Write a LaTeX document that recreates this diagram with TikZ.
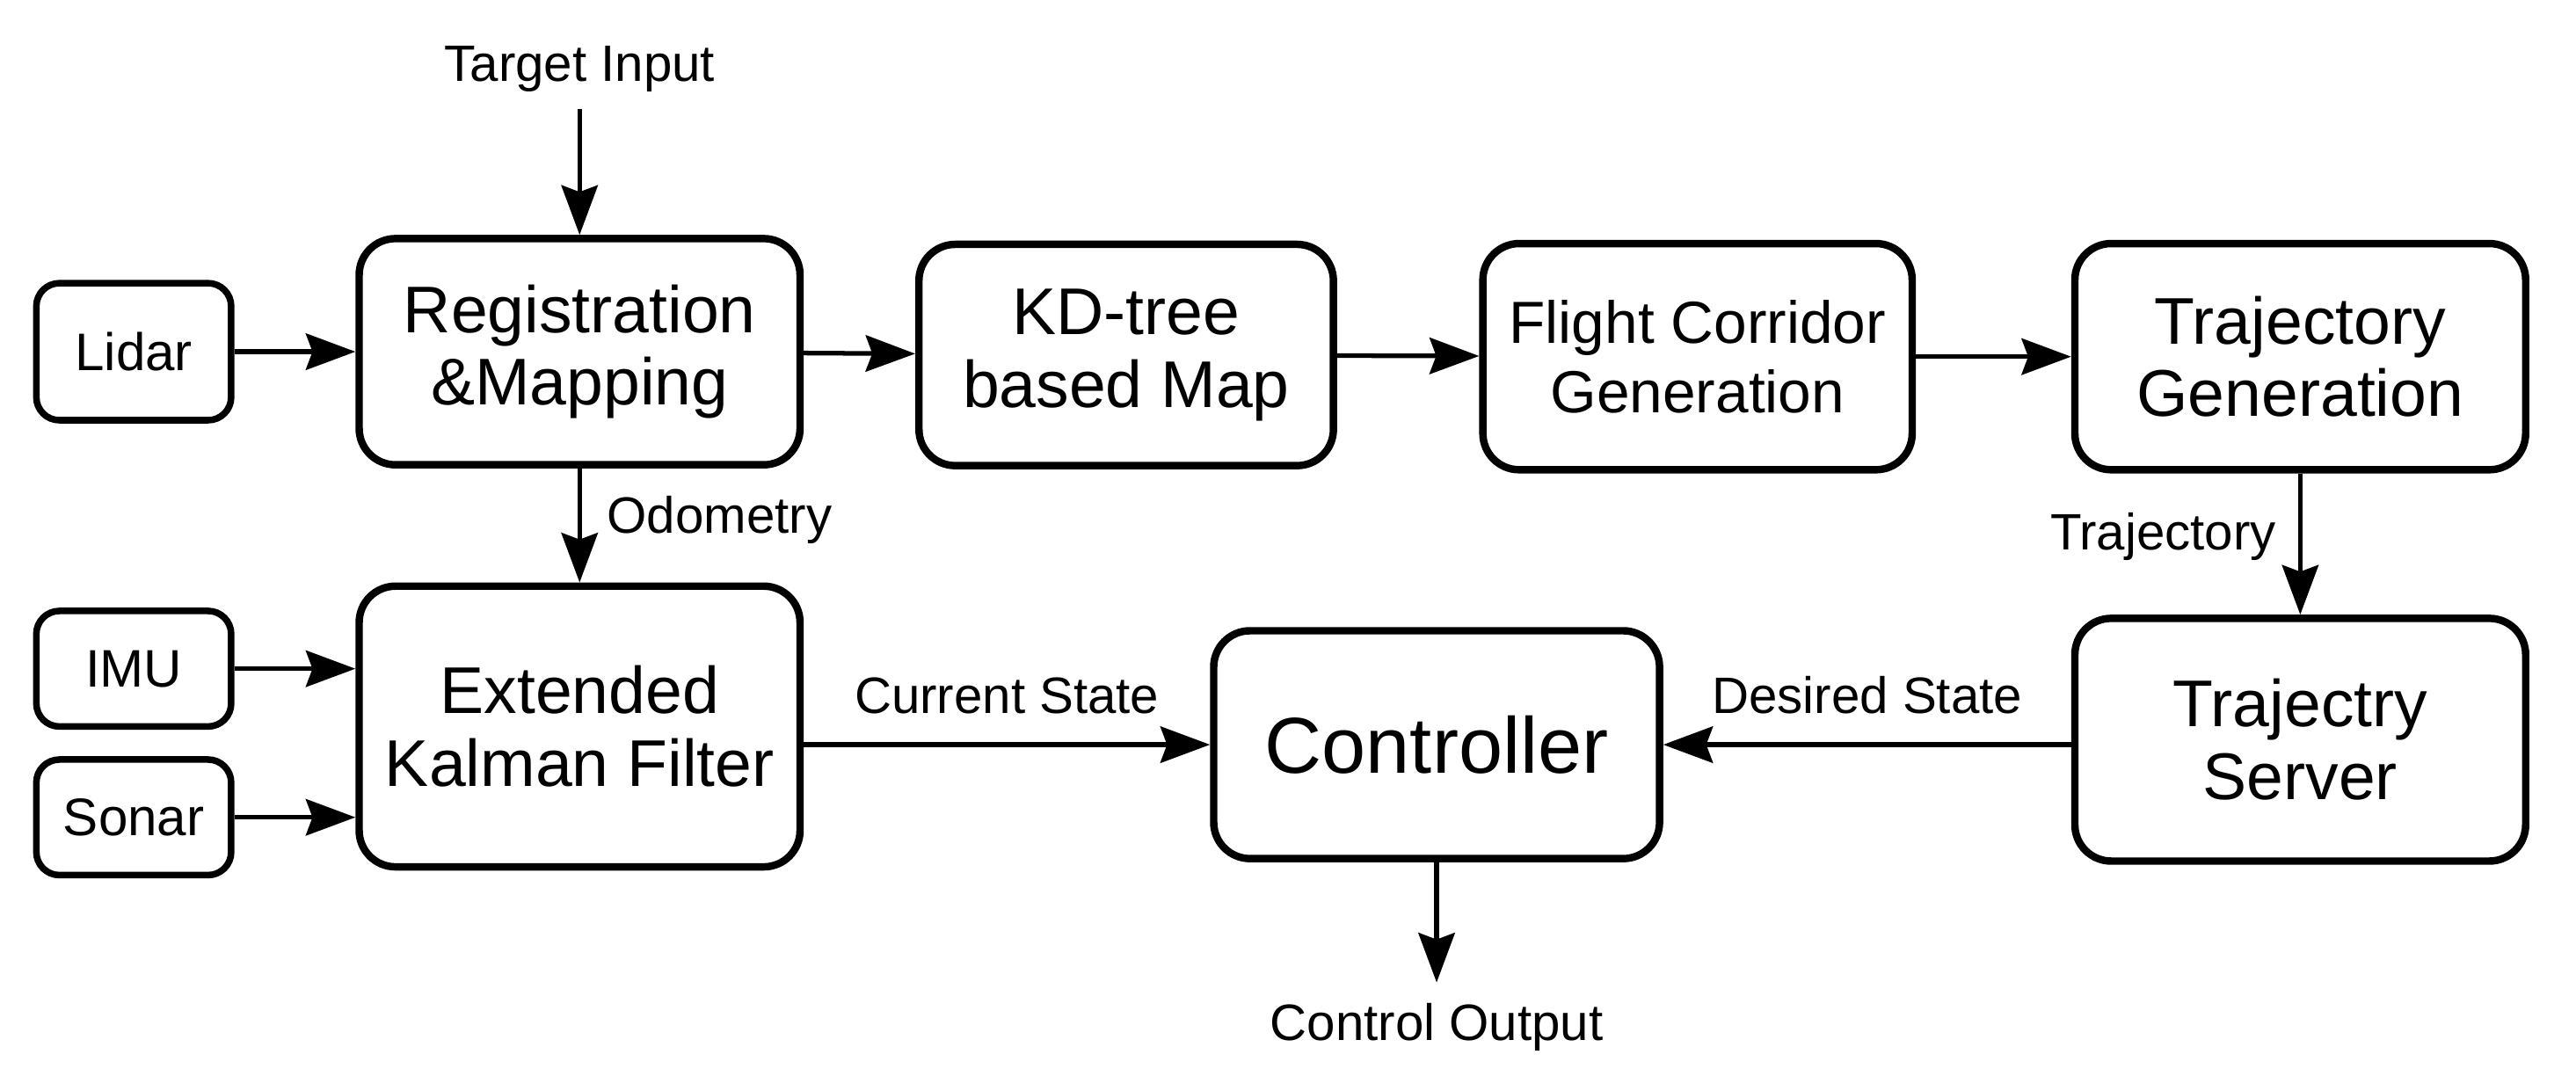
\documentclass[tikz,border=0pt]{standalone}
\usepackage{fontspec}
\setmainfont{Liberation Sans}
\usetikzlibrary{arrows.meta}
\begin{document}
\begin{tikzpicture}[x=1pt,y=-1pt,
  box/.style={draw,line width=4.5pt,rounded corners=22pt,align=center,inner sep=0pt,font=\fontsize{40}{44}\selectfont},
  sbox/.style={draw,line width=4pt,rounded corners=14pt,inner sep=0pt,font=\fontsize{32}{36}\selectfont},
  lab/.style={font=\fontsize{31}{36}\selectfont},
  arr/.style={line width=2.8pt,-{Stealth[length=30pt,width=22pt,inset=4pt]}}]
\useasboundingbox (0,0) rectangle (1560,647);
\node[sbox,minimum width=118pt,minimum height=83pt] (lidar) at (81,213) {Lidar};
\node[sbox,minimum width=118pt,minimum height=70pt] (imu) at (81,405) {IMU};
\node[sbox,minimum width=118pt,minimum height=70pt] (sonar) at (81,495) {Sonar};
\node[box,minimum width=267pt,minimum height=137pt] (reg) at (351,213) {Registration\\\&Mapping};
\node[box,minimum width=251pt,minimum height=134pt] (kd) at (682,215) {KD-tree\\based Map};
\node[box,minimum width=260pt,minimum height=137pt,font=\fontsize{36}{42}\selectfont] (fc) at (1028,216) {Flight Corridor\\Generation};
\node[box,minimum width=273pt,minimum height=137pt] (tg) at (1393,216) {Trajectory\\Generation};
\node[box,minimum width=267pt,minimum height=170pt] (ekf) at (351,440) {Extended\\Kalman Filter};
\node[box,minimum width=270pt,minimum height=138pt,font=\fontsize{48}{52}\selectfont] (ctrl) at (870,451) {Controller};
\node[box,minimum width=273pt,minimum height=147pt] (ts) at (1393,448) {Trajectry\\Server};
\node[lab] (ti) at (351,42) {Target Input};
\node[lab] (co) at (870,622) {Control Output};
\coordinate (tiend) at (351,66);
\coordinate (coend) at (870,595);
\draw[arr] (tiend) -- (reg);
\draw[arr] (lidar) -- (reg.west |- lidar);
\draw[arr] (reg) -- (kd);
\draw[arr] (kd) -- (fc);
\draw[arr] (fc) -- (tg);
\draw[arr] (reg) -- node[lab,right=12pt,pos=0.45]{Odometry} (ekf);
\draw[arr] (imu) -- (ekf.west |- imu);
\draw[arr] (sonar) -- (ekf.west |- sonar);
\draw[arr] (tg) -- node[lab,left=10pt,pos=0.45]{Trajectory} (ts);
\draw[arr] (ekf.east |- ctrl) -- node[lab,above=14pt]{Current State} (ctrl);
\draw[arr] (ts.west |- ctrl) -- node[lab,above=14pt]{Desired State} (ctrl);
\draw[arr] (ctrl) -- (coend);
\end{tikzpicture}
\end{document}
